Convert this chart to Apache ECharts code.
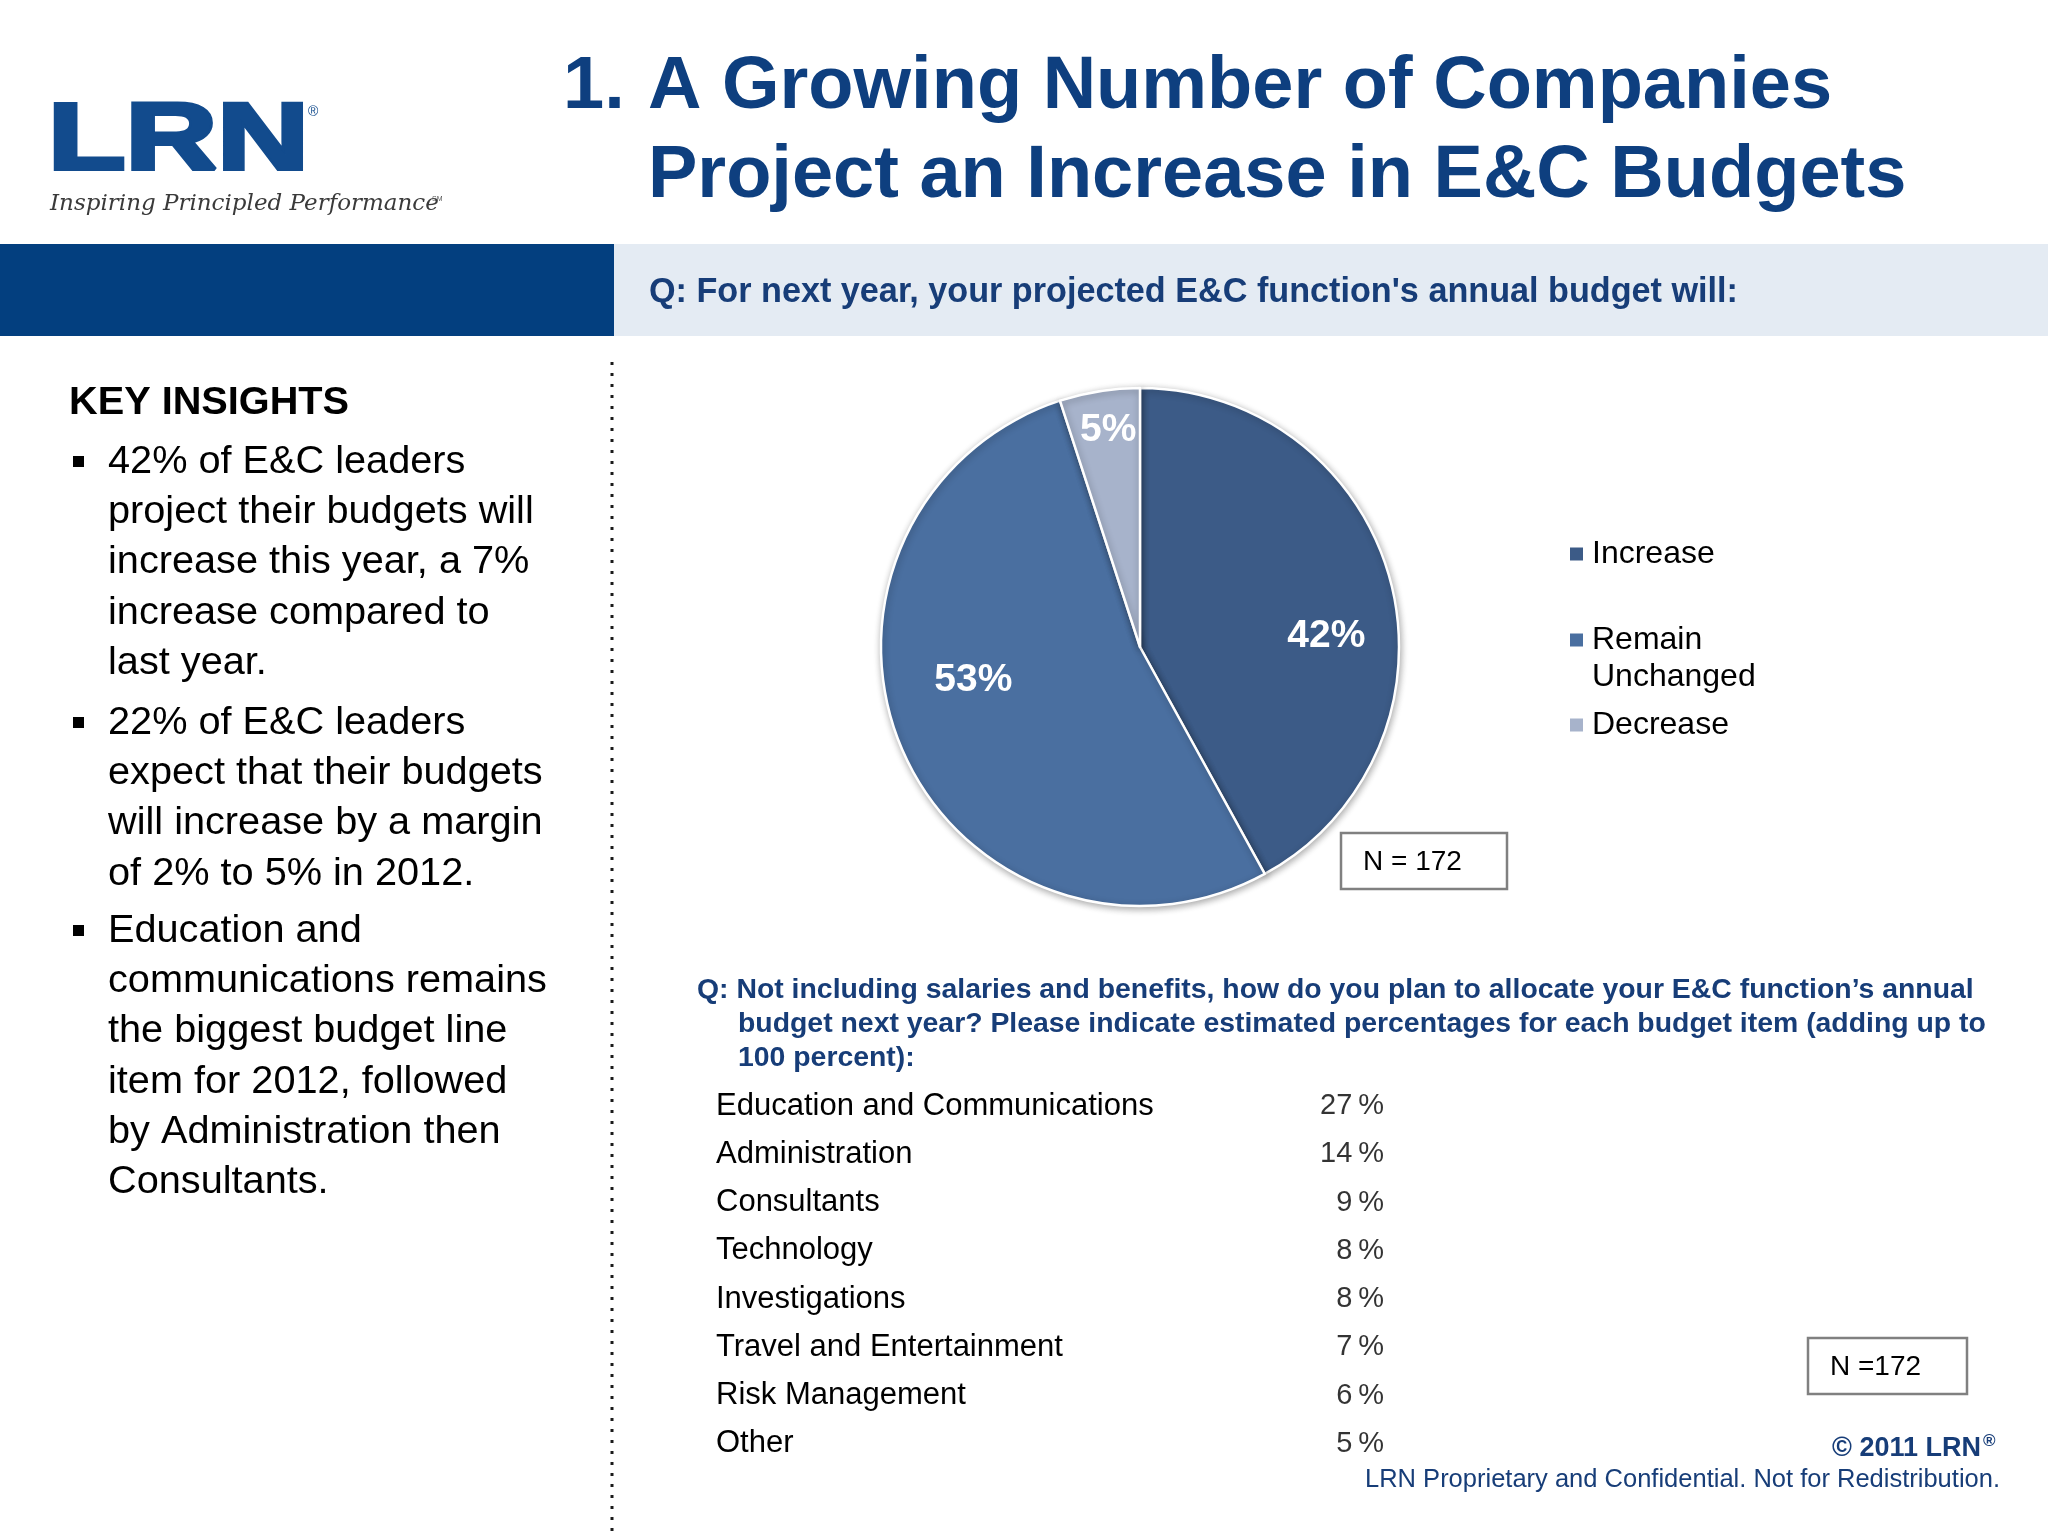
<!DOCTYPE html>
<html>
<head>
<meta charset="utf-8">
<script src="https://cdn.jsdelivr.net/npm/echarts@6/dist/echarts.min.js"></script>
<style>
html,body{margin:0;padding:0;background:#ffffff;}
#chart{width:2048px;height:1536px;}
</style>
</head>
<body>
<div id="chart"></div>
<script>
// ---- data ----
const pieNames = ['Increase', 'Remain Unchanged', 'Decrease'];
const pieValues = [42, 53, 5];
const budgetItems = ['Education and Communications', 'Administration', 'Consultants', 'Technology',
  'Investigations', 'Travel and Entertainment', 'Risk Management', 'Other'];
const budgetShares = [27, 14, 9, 8, 8, 7, 6, 5];
const sampleSize = 172;

const titleLines = ['A Growing Number of Companies', 'Project an Increase in E&C Budgets'];
const question1 = "Q: For next year, your projected E&C function's annual budget will:";
const question2Lines = [
  'Q: Not including salaries and benefits, how do you plan to allocate your E&C function\u2019s annual',
  'budget next year? Please indicate estimated percentages for each budget item (adding up to',
  '100 percent):'
];
const insightGroups = [
  ['42% of E&C leaders', 'project their budgets will', 'increase this year, a 7%', 'increase compared to', 'last year.'],
  ['22% of E&C leaders', 'expect that their budgets', 'will increase by a margin', 'of 2% to 5% in 2012.'],
  ['Education and', 'communications remains', 'the biggest budget line', 'item for 2012, followed', 'by Administration then', 'Consultants.']
];

// ---- styling constants ----
const FONT = '"Liberation Sans", Arial, Helvetica, sans-serif';
const NAVY = '#0e3f7f';
const QBLUE = '#173d78';
const pieColors = ['#3c5b87', '#4a6fa0', '#a7b3cb'];
const pieLabelShift = [[58, 22], [-45, -19], [-11, -86]];

const chart = echarts.init(document.getElementById('chart'), null, {renderer: 'canvas'});

const elements = [];
// header bands
elements.push({type: 'rect', x: 0, y: 244, shape: {x: 0, y: 0, width: 614, height: 92}, style: {fill: '#033f7f'}, silent: true});
elements.push({type: 'rect', x: 614, y: 244, shape: {x: 0, y: 0, width: 1434, height: 92}, style: {fill: '#e4ebf3'}, silent: true});
// dotted separator
elements.push({type: 'line', shape: {x1: 612, y1: 362, x2: 612, y2: 1536}, style: {stroke: '#1a1a1a', lineWidth: 3, lineDash: [3, 8]}, silent: true});

// logo
elements.push({type: 'text', x: 48, y: 143, scaleX: 1.35, style: {text: 'LRN', fontSize: 94, fontWeight: 900, fontFamily: FONT, fill: '#124b8d', stroke: '#124b8d', lineWidth: 4, align: 'left', verticalAlign: 'middle'}});
elements.push({type: 'text', x: 308, y: 112, style: {text: '\u00AE', fontSize: 14, fontFamily: FONT, fill: '#124b8d', align: 'left', verticalAlign: 'middle'}});
elements.push({type: 'text', x: 50, y: 204, style: {text: 'Inspiring Principled Performance', fontSize: 23, fontStyle: 'italic', fontFamily: '"DejaVu Serif", "Liberation Serif", serif', fill: '#3a3a3a', align: 'left', verticalAlign: 'middle'}});
elements.push({type: 'text', x: 432, y: 199, style: {text: 'SM', fontSize: 7, fontFamily: FONT, fill: '#555', align: 'left', verticalAlign: 'middle'}});

// title
elements.push({type: 'text', x: 563, y: 88, style: {text: '1.', fontSize: 74, fontWeight: 'bold', fontFamily: FONT, fill: NAVY, align: 'left', verticalAlign: 'middle'}});
titleLines.forEach(function (t, i) {
  elements.push({type: 'text', x: 648, y: 88 + i * 89, style: {text: t, fontSize: 74, fontWeight: 'bold', fontFamily: FONT, fill: NAVY, align: 'left', verticalAlign: 'middle'}});
});

// question 1
elements.push({type: 'text', x: 649, y: 293, style: {text: question1, fontSize: 34.2, fontWeight: 'bold', fontFamily: FONT, fill: QBLUE, align: 'left', verticalAlign: 'middle'}});

// key insights
elements.push({type: 'text', x: 69, y: 403, style: {text: 'KEY INSIGHTS', fontSize: 39.7, fontWeight: 'bold', fontFamily: FONT, fill: '#000', align: 'left', verticalAlign: 'middle'}});
const groupStarts = [462, 723, 931];
insightGroups.forEach(function (g, gi) {
  elements.push({type: 'rect', x: 73, y: groupStarts[gi] - 6, shape: {x: 0, y: 0, width: 11, height: 11}, style: {fill: '#000'}});
  g.forEach(function (line, li) {
    elements.push({type: 'text', x: 108, y: groupStarts[gi] + li * 50.2, style: {text: line, fontSize: 39.7, fontFamily: FONT, fill: '#000', align: 'left', verticalAlign: 'middle'}});
  });
});

// N boxes
elements.push({type: 'rect', x: 1341, y: 833, shape: {x: 0, y: 0, width: 166, height: 56}, style: {fill: '#fff', stroke: '#808080', lineWidth: 2.5}});
elements.push({type: 'text', x: 1363, y: 862, style: {text: 'N = ' + sampleSize, fontSize: 28, fontFamily: FONT, fill: '#000', align: 'left', verticalAlign: 'middle'}});
elements.push({type: 'rect', x: 1808, y: 1338, shape: {x: 0, y: 0, width: 159, height: 56}, style: {fill: '#fff', stroke: '#808080', lineWidth: 2.5}});
elements.push({type: 'text', x: 1830, y: 1367, style: {text: 'N =' + sampleSize, fontSize: 28, fontFamily: FONT, fill: '#000', align: 'left', verticalAlign: 'middle'}});

// question 2
question2Lines.forEach(function (t, i) {
  elements.push({type: 'text', x: i === 0 ? 697 : 738, y: 990 + i * 34, style: {text: t, fontSize: 28.4, fontWeight: 'bold', fontFamily: FONT, fill: QBLUE, align: 'left', verticalAlign: 'middle'}});
});

// footer
elements.push({type: 'text', x: 1981, y: 1449, style: {text: '\u00A9 2011 LRN', fontSize: 27, fontWeight: 'bold', fontFamily: FONT, fill: QBLUE, align: 'right', verticalAlign: 'middle'}});
elements.push({type: 'text', x: 1983, y: 1441, style: {text: '\u00AE', fontSize: 17, fontWeight: 'bold', fontFamily: FONT, fill: QBLUE, align: 'left', verticalAlign: 'middle'}});
elements.push({type: 'text', x: 2000, y: 1480, style: {text: 'LRN Proprietary and Confidential. Not for Redistribution.', fontSize: 25.5, fontFamily: FONT, fill: QBLUE, align: 'right', verticalAlign: 'middle'}});

function legendFor(name, top, extra) {
  return Object.assign({
    data: [name],
    orient: 'vertical',
    left: 1568,
    top: top,
    padding: 0,
    icon: 'rect',
    itemWidth: 15,
    itemHeight: 15,
    selectedMode: false,
    textStyle: {fontSize: 32, fontFamily: FONT, color: '#000', lineHeight: 38, padding: [0, 0, 0, 3]}
  }, extra || {});
}

const option = {
  animation: false,
  backgroundColor: '#ffffff',
  textStyle: {fontFamily: FONT},
  graphic: {elements: elements},
  legend: [
    legendFor('Increase', 554 - 19),
    legendFor('Remain Unchanged', 640 - 55.5, {
      formatter: function () { return ' \nRemain\nUnchanged'; },
      textStyle: {fontSize: 32, fontFamily: FONT, color: '#000', lineHeight: 37, padding: [0, 0, 0, 3]}
    }),
    legendFor('Decrease', 725 - 19)
  ],
  grid: {left: 716, top: 1082, width: 668, height: 386, containLabel: false},
  xAxis: {type: 'value', min: 0, max: 1, show: false},
  yAxis: {
    type: 'category', data: budgetItems, inverse: true,
    axisLine: {show: false}, axisTick: {show: false}, splitLine: {show: false},
    axisLabel: {align: 'left', margin: 0, fontSize: 31, color: '#000', fontFamily: FONT}
  },
  series: [
    {
      type: 'pie',
      center: [1140, 647],
      radius: [0, 259],
      startAngle: 90,
      clockwise: true,
      silent: true,
      data: pieNames.map(function (n, i) {
        return {name: n, value: pieValues[i], itemStyle: {color: pieColors[i]}};
      }),
      itemStyle: {borderColor: '#ffffff', borderWidth: 2.5, shadowBlur: 7, shadowColor: 'rgba(0,0,0,0.32)', shadowOffsetX: 1, shadowOffsetY: 2},
      label: {show: true, position: 'inside', formatter: '{c}%', color: '#ffffff', fontSize: 39, fontWeight: 'bold', fontFamily: FONT},
      labelLine: {show: false},
      labelLayout: function (p) {
        const d = pieLabelShift[p.dataIndex];
        return {dx: d[0], dy: d[1]};
      },
      emphasis: {disabled: true}
    },
    {
      type: 'scatter',
      silent: true,
      symbolSize: 0.1,
      itemStyle: {color: 'rgba(0,0,0,0)'},
      data: budgetItems.map(function (c, i) { return [1, c, budgetShares[i]]; }),
      label: {
        show: true, position: 'left', distance: 0,
        formatter: function (p) { return p.value[2] + '\u2009%'; },
        fontSize: 29, color: '#000', fontFamily: FONT
      },
      emphasis: {disabled: true}
    }
  ]
};
chart.setOption(option);
</script>
</body>
</html>
